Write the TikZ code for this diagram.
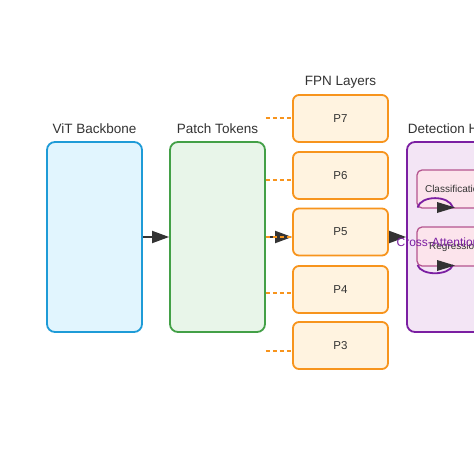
\documentclass[tikz,border=0pt]{standalone}
\usepackage{fontspec}
\setmainfont{Liberation Sans}
\usetikzlibrary{arrows.meta}
\definecolor{txt}{HTML}{333333}
\definecolor{vitB}{HTML}{1E9BD7}
\definecolor{vitF}{HTML}{E1F5FE}
\definecolor{patB}{HTML}{43A047}
\definecolor{patF}{HTML}{E8F5E9}
\definecolor{fpnB}{HTML}{F7941D}
\definecolor{fpnF}{HTML}{FFF3E0}
\definecolor{detB}{HTML}{7B1FA2}
\definecolor{detF}{HTML}{F3E5F5}
\definecolor{subB}{HTML}{B5558F}
\definecolor{subF}{HTML}{FCE4EC}
\tikzset{
  bigbox/.style={draw, line width=1.8pt, rounded corners=8pt, minimum width=95pt, minimum height=190pt, inner sep=0pt},
  fpnbox/.style={draw=fpnB, fill=fpnF, line width=1.8pt, rounded corners=6pt, minimum width=95pt, minimum height=47pt, inner sep=0pt, font=\fontsize{11.5}{13}\selectfont, text=txt},
  subbox/.style={draw=subB, fill=subF, line width=1.3pt, rounded corners=5pt, minimum width=75pt, inner sep=0pt, font=\fontsize{10}{12}\selectfont, text=txt},
  heading/.style={anchor=base, font=\fontsize{13.5}{15}\selectfont, text=txt},
  flow/.style={draw=txt, line width=1.8pt, -{Triangle[length=17pt,width=12pt]}},
  tap/.style={draw=fpnB, line width=1.2pt, dash pattern=on 4pt off 3pt},
  arcline/.style={draw=detB, line width=1.8pt},
  arrowhead/.style={fill=txt}
}
\begin{document}
\begin{tikzpicture}[x=1pt,y=-1pt]
\useasboundingbox[fill=white] (0,0) rectangle (474,474);
\begin{scope}
\clip (0,0) rectangle (474,474);
% boxes
\node[bigbox, draw=vitB, fill=vitF] (vit) at (94.5,237) {};
\node[bigbox, draw=patB, fill=patF] (pat) at (217.5,237) {};
\node[bigbox, draw=detB, fill=detF] (det) at (454.5,237) {};
\node[fpnbox] (p7) at (340.5,118.5) {P7};
\node[fpnbox] (p6) at (340.5,175.5) {P6};
\node[fpnbox] (p5) at (340.5,232) {P5};
\node[fpnbox] (p4) at (340.5,289.5) {P4};
\node[fpnbox] (p3) at (340.5,345.5) {P3};
\node[subbox, minimum height=38pt] (cls) at (454.5,189) {Classification};
\node[subbox, minimum height=39pt] (reg) at (454.5,246.5) {Regression};
% headings
\node[heading] (hvit) at (94.5,133) {ViT Backbone};
\node[heading] (hpat) at (217.5,133) {Patch Tokens};
\node[heading] (hfpn) at (340.5,85) {FPN Layers};
\node[heading] (hdet) at (454.5,133) {Detection Head};
% flow arrows
\draw[flow] (vit.east |- 0,237) -- (pat.west |- 0,237);
\draw[flow] (pat.east |- 0,237) -- (p5.west |- 0,237);
\draw[flow] (p5.east |- 0,237) -- (det.west |- 0,237);
% taps
\draw[tap] (pat.east |- 0,118) -- (p7.west |- 0,118);
\draw[tap] (pat.east |- 0,180) -- (p6.west |- 0,180);
\draw[tap] (pat.east |- 0,237) -- (p5.west |- 0,237);
\draw[tap] (pat.east |- 0,293) -- (p4.west |- 0,293);
\draw[tap] (pat.east |- 0,351) -- (p3.west |- 0,351);
% cross attention loops
\coordinate (ca1) at (417.5,207.5);
\coordinate (ca2) at (453,207.5);
\coordinate (cb1) at (417.5,265);
\coordinate (cb2) at (453,265);
\draw[arcline] (ca1) .. controls (421,195) and (449,195) .. (ca2);
\draw[arcline] (cb1) .. controls (421,276) and (449,276) .. (cb2);
\fill[arrowhead] (437,202) -- (455,207.5) -- (437,213) -- cycle;
\fill[arrowhead] (437,260) -- (455,265.5) -- (437,271) -- cycle;
\node[font=\fontsize{12}{14}\selectfont, text=detB, inner sep=0pt] (xatt) at (438,242) {Cross-Attention};
\end{scope}
\end{tikzpicture}
\end{document}
